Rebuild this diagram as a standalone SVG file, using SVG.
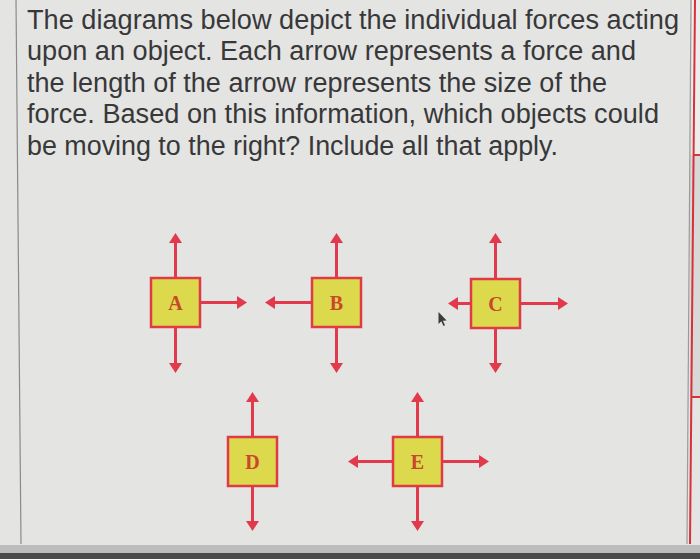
<svg xmlns="http://www.w3.org/2000/svg" width="700" height="559" viewBox="0 0 700 559">
  <style>
    .q { font-family: "Liberation Sans", Arial, sans-serif; font-size: 27px; fill: #38383a; }
    .box { fill: #dcd94c; stroke: #df3a45; stroke-width: 2.5; }
    .lbl { font-family: "Liberation Serif", "Times New Roman", serif; font-size: 20px; font-weight: bold; fill: #c9472c; text-anchor: middle; }
    .f { stroke: #e23a4c; stroke-width: 3; fill: none; marker-end: url(#ah); }
  </style>
  <defs>
    <marker id="ah" viewBox="0 0 10 13" markerWidth="10" markerHeight="13" refX="6" refY="6.5" orient="auto" markerUnits="userSpaceOnUse">
      <path d="M0,0 L10,6.5 L0,13 z" fill="#e23a4c"/>
    </marker>
  </defs>

  <!-- background -->
  <rect x="0" y="0" width="700" height="559" fill="#e4e4e2"/>
  <rect x="692" y="0" width="8" height="155" fill="#ededeb"/>
  <rect x="690" y="155" width="10" height="242" fill="#d8d8d6"/>
  <rect x="0" y="545" width="700" height="8" fill="#bcbcbc"/>
  <rect x="0" y="553" width="700" height="6" fill="#4a4a4a"/>

  <!-- frame lines -->
  <line x1="16" y1="0" x2="21" y2="544" stroke="#8a8a8a" stroke-width="1.2"/>
  <line x1="691" y1="0" x2="687" y2="544" stroke="#9a9a9a" stroke-width="1.2"/>
  <line x1="695" y1="0" x2="690" y2="544" stroke="#d8303c" stroke-width="2"/>
  <line x1="694" y1="155" x2="700" y2="155" stroke="#d8303c" stroke-width="2"/>
  <line x1="692" y1="397" x2="700" y2="397" stroke="#d8303c" stroke-width="2"/>

  <!-- question text -->
  <g id="question">
    <text class="q" x="27" y="28.5" textLength="652" lengthAdjust="spacingAndGlyphs">The diagrams below depict the individual forces acting</text>
    <text class="q" x="27" y="60" textLength="609" lengthAdjust="spacingAndGlyphs">upon an object. Each arrow represents a force and</text>
    <text class="q" x="27" y="91.5" textLength="580" lengthAdjust="spacingAndGlyphs">the length of the arrow represents the size of the</text>
    <text class="q" x="27" y="123" textLength="632" lengthAdjust="spacingAndGlyphs">force. Based on this information, which objects could</text>
    <text class="q" x="27" y="154.5" textLength="531" lengthAdjust="spacingAndGlyphs">be moving to the right? Include all that apply.</text>
  </g>

  <!-- connectors (force arrows) -->
  <g id="forces">
    <!-- A -->
    <line class="f" x1="175.5" y1="278" x2="175.5" y2="237"/>
    <line class="f" x1="175.5" y1="327" x2="175.5" y2="369"/>
    <line class="f" x1="200" y1="302.5" x2="243" y2="302.5"/>
    <!-- B -->
    <line class="f" x1="336.5" y1="278" x2="336.5" y2="237"/>
    <line class="f" x1="336.5" y1="327" x2="336.5" y2="369"/>
    <line class="f" x1="312" y1="302.5" x2="269" y2="302.5"/>
    <!-- C -->
    <line class="f" x1="495.5" y1="279" x2="495.5" y2="237"/>
    <line class="f" x1="495.5" y1="328" x2="495.5" y2="369"/>
    <line class="f" x1="471" y1="303.5" x2="452" y2="303.5"/>
    <line class="f" x1="520" y1="303.5" x2="564" y2="303.5"/>
    <!-- D -->
    <line class="f" x1="252.5" y1="437" x2="252.5" y2="396"/>
    <line class="f" x1="252.5" y1="486" x2="252.5" y2="527"/>
    <!-- E -->
    <line class="f" x1="417.5" y1="437" x2="417.5" y2="396"/>
    <line class="f" x1="417.5" y1="486" x2="417.5" y2="527"/>
    <line class="f" x1="393" y1="461.5" x2="352" y2="461.5"/>
    <line class="f" x1="442" y1="461.5" x2="485" y2="461.5"/>
  </g>

  <!-- nodes -->
  <g id="nodeA">
    <rect class="box" x="151" y="278" width="49" height="49"/>
    <text class="lbl" x="175.5" y="309.5">A</text>
  </g>
  <g id="nodeB">
    <rect class="box" x="312" y="278" width="49" height="49"/>
    <text class="lbl" x="336.5" y="309.5">B</text>
  </g>
  <g id="nodeC">
    <rect class="box" x="471" y="279" width="49" height="49"/>
    <text class="lbl" x="495.5" y="310.5">C</text>
  </g>
  <g id="nodeD">
    <rect class="box" x="228" y="437" width="49" height="49"/>
    <text class="lbl" x="252.5" y="468.5">D</text>
  </g>
  <g id="nodeE">
    <rect class="box" x="393" y="437" width="49" height="49"/>
    <text class="lbl" x="417.5" y="468.5">E</text>
  </g>

  <!-- mouse pointer -->
  <path d="M438.5,312 L438.5,324 L441.3,321.3 L443.5,326 L445,325.3 L442.9,320.7 L446.6,320.5 z" fill="#3a3a3a"/>
</svg>
